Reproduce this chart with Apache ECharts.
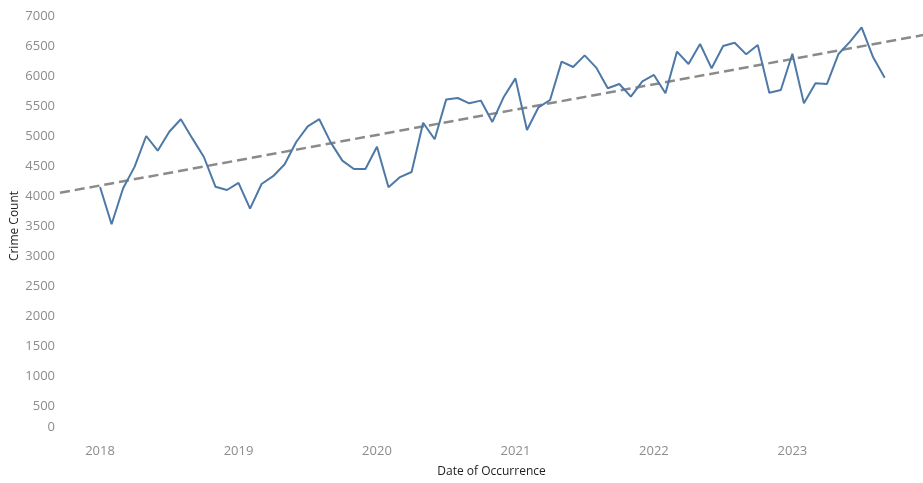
<!DOCTYPE html>
<html>
<head>
<meta charset="utf-8">
<script src="https://cdn.jsdelivr.net/npm/echarts@6/dist/echarts.min.js"></script>
<style>html,body{margin:0;padding:0;background:#fff}#c{width:923px;height:483px}</style>
</head>
<body>
<div id="c"></div>
<script>
// Monthly crime counts, Jan 2018 .. Sep 2023
const years = [2018, 2019, 2020, 2021, 2022, 2023];
const counts2018 = [4150, 3530, 4130, 4490, 5000, 4755, 5070, 5280, 4960, 4650, 4155, 4100];
const counts2019 = [4220, 3790, 4200, 4330, 4530, 4900, 5160, 5280, 4890, 4590, 4450, 4450];
const counts2020 = [4820, 4145, 4315, 4400, 5220, 4945, 5610, 5633, 5545, 5590, 5235, 5655];
const counts2021 = [5960, 5100, 5478, 5600, 6240, 6150, 6344, 6140, 5795, 5867, 5656, 5911];
const counts2022 = [6017, 5711, 6406, 6200, 6533, 6128, 6500, 6555, 6361, 6517, 5722, 5767];
const counts2023 = [6372, 5544, 5878, 5867, 6367, 6572, 6811, 6311, 5972];
const yTicks = [0, 500, 1000, 1500, 2000, 2500, 3000, 3500, 4000, 4500, 5000, 5500, 6000, 6500, 7000];

const allCounts = [].concat(counts2018, counts2019, counts2020, counts2021, counts2022, counts2023);
const lineData = allCounts.map((v, i) => [i, v]);

// least-squares trend line over month index
const n = allCounts.length;
let sx = 0, sy = 0, sxx = 0, sxy = 0;
allCounts.forEach((v, i) => { sx += i; sy += v; sxx += i * i; sxy += i * v; });
const slope = (n * sxy - sx * sy) / (n * sxx - sx * sx);
const icpt = (sy - slope * sx) / n;
const xMin = -3.47, xMax = 71.32;
const trendData = [[xMin, icpt + slope * xMin], [xMax, icpt + slope * xMax]];

const chart = echarts.init(document.getElementById('c'));
chart.setOption({
  animation: false,
  grid: { left: 60, right: 0, top: 16, bottom: 47, containLabel: false, outerBoundsMode: 'none' },
  xAxis: {
    type: 'value', min: xMin, max: xMax,
    name: 'Date of Occurrence', nameLocation: 'middle', nameGap: 30, nameMoveOverlap: false,
    nameTextStyle: { color: '#222', fontSize: 12, fontFamily: 'Open Sans' },
    axisLine: { show: false }, axisTick: { show: false }, splitLine: { show: false },
    axisLabel: {
      customValues: years.map((y, i) => i * 12),
      formatter: v => String(years[0] + Math.round(v / 12)),
      color: '#8c8c8c', fontSize: 13, fontFamily: 'Open Sans', margin: 9
    }
  },
  yAxis: {
    type: 'value', min: 0, max: 7000, interval: 500,
    name: 'Crime Count', nameLocation: 'middle', nameGap: 39, nameRotate: 90, nameMoveOverlap: false,
    nameTextStyle: { color: '#222', fontSize: 12, fontFamily: 'Open Sans' },
    axisLine: { show: false }, axisTick: { show: false }, splitLine: { show: false },
    axisLabel: {
      customValues: yTicks,
      formatter: v => v === 0 ? '{z|0}' : String(v),
      rich: { z: { color: '#8c8c8c', fontSize: 13, fontFamily: 'Open Sans', padding: [0, 0, 18, 0] } },
      color: '#8c8c8c', fontSize: 13, fontFamily: 'Open Sans', margin: 5
    }
  },
  series: [
    {
      type: 'line', data: trendData, symbol: 'none', silent: true, z: 1,
      lineStyle: { color: '#8a8a8a', width: 2.5, type: [10, 5] }
    },
    {
      type: 'line', data: lineData, symbol: 'none', z: 2,
      lineStyle: { color: '#4e79a7', width: 2 }
    }
  ]
});
</script>
</body>
</html>
